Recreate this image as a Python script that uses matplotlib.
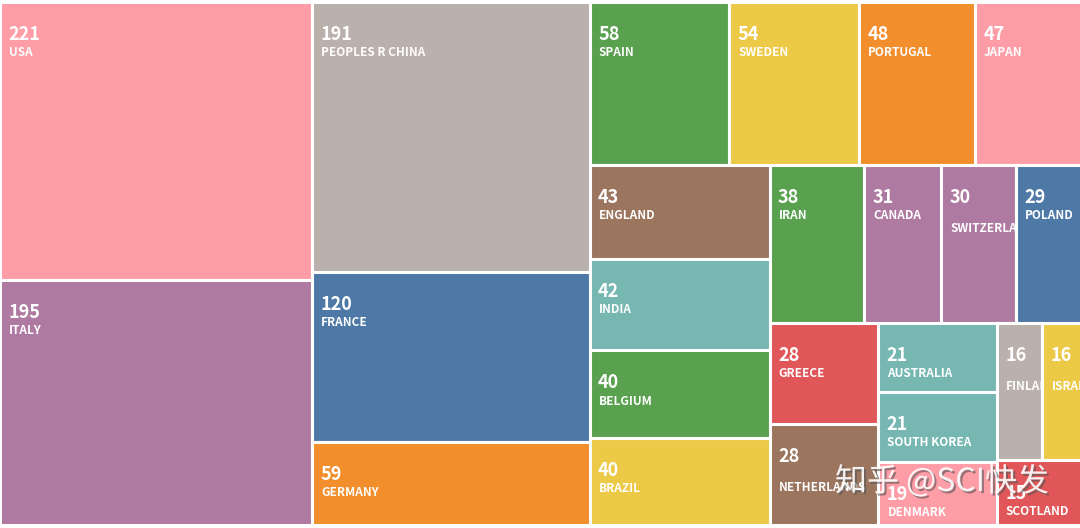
import matplotlib
matplotlib.use('Agg')
import matplotlib.pyplot as plt
import matplotlib.patheffects as pe
from matplotlib.patches import Rectangle

plt.rcParams['font.family'] = ['Noto Sans CJK SC', 'DejaVu Sans']

countries = ['USA', 'ITALY', 'PEOPLES R CHINA', 'FRANCE', 'GERMANY', 'SPAIN', 'SWEDEN', 'PORTUGAL',
             'JAPAN', 'ENGLAND', 'INDIA', 'BELGIUM', 'BRAZIL', 'IRAN', 'CANADA', 'SWITZERLAND',
             'POLAND', 'GREECE', 'NETHERLANDS', 'AUSTRALIA', 'SOUTH KOREA', 'DENMARK', 'FINLAND',
             'ISRAEL', 'SCOTLAND']
counts = [221, 195, 191, 120, 59, 58, 54, 48, 47, 43, 42, 40, 40, 38, 31, 30, 29, 28, 28, 21, 21, 19, 16, 16, 15]
colors = ['#FF9DA7', '#AF7AA1', '#BAB0AC', '#4E79A7', '#F28E2B', '#59A14F', '#EDC948', '#F28E2B',
          '#FF9DA7', '#9C755F', '#76B7B2', '#59A14F', '#EDC948', '#59A14F', '#AF7AA1', '#AF7AA1',
          '#4E79A7', '#E15759', '#9C755F', '#76B7B2', '#76B7B2', '#FF9DA7', '#BAB0AC', '#EDC948',
          '#E15759']
# labels pushed down one line because they did not fit the box
wrapped = ['SWITZERLAND', 'NETHERLANDS', 'FINLAND', 'ISRAEL']

# nesting of the treemap, leaves are indexes in the lists above
tree = ('h', [('v', [0, 1]),
              ('v', [2, 3, 4]),
              ('v', [('h', [5, 6, 7, 8]),
                     ('h', [('v', [9, 10, 11, 12]),
                            ('v', [('h', [13, 14, 15, 16]),
                                   ('h', [('v', [17, 18]),
                                          ('v', [19, 20, 21]),
                                          ('v', [('h', [22, 23]), 24])])])])])])


def total(node):
    if isinstance(node, int):
        return counts[node]
    return sum(total(c) for c in node[1])


def layout(node, x, y, w, h, out):
    if isinstance(node, int):
        out[node] = (x, y, w, h)
        return
    size = total(node)
    for c in node[1]:
        part = total(c) / size
        if node[0] == 'h':
            layout(c, x, y, w * part, h, out)
            x += w * part
        else:
            layout(c, x, y, w, h * part, out)
            y += h * part


fig = plt.figure(figsize=(10.8, 5.28), dpi=100)
# the map runs a little past the right edge of the picture, as in the screenshot
ax = fig.add_axes([0, 3 / 528, 1088 / 1080, 523.5 / 528])
ax.set_xlim(0, 1)
ax.set_ylim(1, 0)
ax.axis('off')

rects = {}
layout(tree, 0, 0, 1, 1, rects)

for i in range(len(counts)):
    x, y, w, h = rects[i]
    box = Rectangle((x, y), w, h, facecolor=colors[i], edgecolor='white', linewidth=2.2)
    ax.add_patch(box)
    clip = Rectangle((x, y), w, h, transform=ax.transData)
    t1 = ax.annotate(str(counts[i]), (x, y), xytext=(6, -23.5), textcoords='offset points',
                     color='white', fontsize=13, fontweight='bold', va='center', ha='left')
    dy = -36.5 if countries[i] not in wrapped else -46
    t2 = ax.annotate(countries[i], (x, y), xytext=(6.5, dy), textcoords='offset points',
                     color='white', fontsize=8.5, fontweight='bold', va='center', ha='left')
    t1.set_clip_path(clip)
    t2.set_clip_path(clip)
    t2.set_clip_on(True)

# watermark of the source site
fig.text(835 / 1080, 1 - 482 / 528, '知乎 @SCI快发', color='white', alpha=0.9, fontsize=23,
         va='center', ha='left',
         path_effects=[pe.withSimplePatchShadow(offset=(1.5, -1.5), shadow_rgbFace='#555555', alpha=0.6)])

plt.savefig('out.png', dpi=100)
